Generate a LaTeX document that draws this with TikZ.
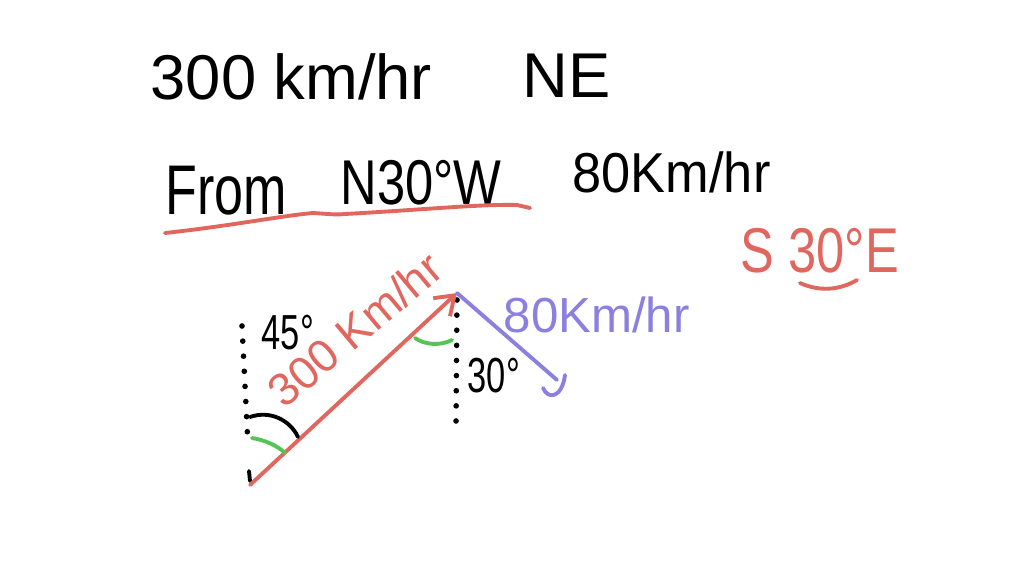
\documentclass[tikz,border=0pt]{standalone}
\usepackage{fontspec}
\setmainfont{Liberation Sans}
\usepackage{graphicx}
\usetikzlibrary{arrows.meta}
\definecolor{penred}{HTML}{E0665E}
\definecolor{penblue}{HTML}{8B80E0}
\definecolor{pengreen}{HTML}{55C455}
\newcommand{\hw}[2]{\scalebox{#1}[1]{#2}}
\begin{document}
\begin{tikzpicture}[x=0.01cm,y=-0.01cm,
  txt/.style={inner sep=0pt, anchor=base west},
  pen/.style={line width=1.1pt, line cap=round, line join=round},
  dots/.style={line width=1.6pt, line cap=round, dash pattern=on 0pt off 4.3pt}]
\useasboundingbox[fill=white] (0,0) rectangle (1024,576);

% header lines
\node[txt, font=\fontsize{18}{18}\selectfont] (t1) at (150,100) {300 km/hr};
\node[txt, font=\fontsize{18}{18}\selectfont] (t2) at (522,98) {NE};
\node[txt, font=\fontsize{20}{20}\selectfont] (t3) at (165,215) {\hw{0.74}{From}};
\node[txt, font=\fontsize{18}{18}\selectfont] (t4) at (340,205) {\hw{0.8}{N30°W}};
\node[txt, font=\fontsize{16}{16}\selectfont] (t5) at (572,193) {\hw{0.93}{80Km/hr}};
\draw[pen, penred] (165,233) .. controls (230,226) and (280,216) .. (313,213)
  .. controls (330,214) and (335,215) .. (345,214)
  .. controls (420,210) and (480,204) .. (517,205) -- (530,208);

% S 30 E
\node[txt, penred, font=\fontsize{18}{18}\selectfont] (t6) at (740,273) {\hw{0.8}{S 30°E}};
\draw[pen, penred] (800,283) .. controls (820,292) and (840,290) .. (857,280);

% vector diagram
\coordinate (A) at (250,485);
\coordinate (B) at (457,293);
\coordinate (C) at (557,380);
\coordinate (L1) at (242,326);
\coordinate (L2) at (248,445);
\coordinate (R1) at (457,300);
\coordinate (R2) at (456,426);
\draw[dots] (L1) -- (L2);
\draw[dots] (R1) -- (R2);
\draw[pen] (249,471) -- (250,481);

\draw[pen, penred, -{Straight Barb[length=5pt,width=7pt]}] (A) -- (B);
\draw[pen, penblue] (B) -- (C);
\draw[pen, penblue] (543,388) .. controls (548,400) and (562,398) .. (565,375);

\node[txt, penred, rotate=40, font=\fontsize{13}{13}\selectfont] (t7) at (284,410) {300 Km/hr};
\node[txt, penblue, font=\fontsize{14}{14}\selectfont] (t8) at (503,332) {80Km/hr};
\node[txt, font=\fontsize{14}{14}\selectfont] (t9) at (261,350) {\hw{0.7}{45°}};
\node[txt, font=\fontsize{14}{14}\selectfont] (t10) at (467,392) {\hw{0.7}{30°}};

% angle arcs
\draw[pen] (250,417) .. controls (270,410) and (290,420) .. (298,437);
\draw[pen, pengreen] (252,438) .. controls (265,440) and (278,446) .. (285,453);
\draw[pen, pengreen] (415,338) .. controls (425,345) and (440,346) .. (452,340);
\end{tikzpicture}
\end{document}
